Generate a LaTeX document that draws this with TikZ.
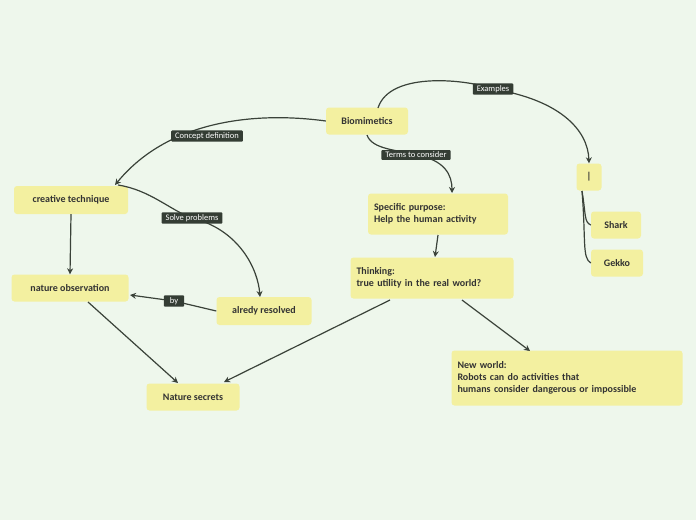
\documentclass[tikz,border=0pt]{standalone}
\usepackage{fontspec}
\setmainfont{Carlito}
\usetikzlibrary{arrows.meta}
\definecolor{bg}{HTML}{EEF7EC}
\definecolor{nd}{HTML}{F3F0A0}
\definecolor{lb}{HTML}{343D34}
\definecolor{ln}{HTML}{3A4239}
\begin{document}
\begin{tikzpicture}[x=1pt,y=-1pt,
  n/.style={fill=nd,rounded corners=3pt,font=\bfseries\fontsize{10}{12}\selectfont,text=black!80,inner sep=0pt,align=left},
  l/.style={fill=lb,text=white,font=\fontsize{8.5}{10}\selectfont,inner xsep=4pt,inner ysep=2pt,rounded corners=1pt},
  c/.style={draw=ln,line width=1.2pt},
  a/.style={c,-{Stealth[length=6pt,width=6pt]}}]
\fill[bg] (0,0) rectangle (696,520);
\useasboundingbox (0,0) rectangle (696,520);
\node[n,minimum width=82pt,minimum height=27pt,align=center] (bio) at (367,121) {Biomimetics};
\node[n,minimum width=114pt,minimum height=28pt,align=center] (ct) at (71,200) {creative technique};
\node[n,minimum width=117pt,minimum height=27pt,align=center] (no) at (70,288) {nature observation};
\node[n,minimum width=95pt,minimum height=28pt,align=center] (ar) at (264,311) {alredy resolved};
\node[n,minimum width=93pt,minimum height=27pt,align=center] (ns) at (193,397) {Nature secrets};
\node[n,minimum width=140pt,minimum height=41pt,text width=128pt] (sp) at (438,214) {Specific purpose:\\Help the human activity};
\node[n,minimum width=163pt,minimum height=41pt,text width=151pt] (th) at (432,278) {Thinking:\\true utility in the real world?};
\node[n,minimum width=231pt,minimum height=55pt,text width=219pt] (nw) at (567,378) {New world:\\Robots can do activities that\\humans consider dangerous or impossible};
\node[n,minimum width=25pt,minimum height=27pt,align=center] (bar) at (589,177) {|};
\node[n,minimum width=50pt,minimum height=27pt,align=center] (sh) at (616,225) {Shark};
\node[n,minimum width=52pt,minimum height=27pt,align=center] (ge) at (617,263) {Gekko};
\coordinate (cd) at (207,136);
\coordinate (ex) at (493,89);
\coordinate (tc) at (416,155);
\coordinate (spb) at (192,218);
\coordinate (by) at (174,301);
\draw[a] (bio.west) .. controls (260,112) and (170,118) .. (115,185);
\draw[a] (378,108) .. controls (390,70) and (470,80) .. (ex) .. controls (560,100) and (588,130) .. (bar.north);
\draw[a] (367,135) .. controls (372,150) and (400,150) .. (tc) .. controls (445,160) and (452,175) .. (452,193);
\draw[a] (118,185) .. controls (150,190) and (170,210) .. (spb) .. controls (240,230) and (258,270) .. (260,297);
\draw[a] (ct.south) -- (no.north);
\draw[a] (ar.west) -- (by) -- (130,295);
\draw[a] (88,302) -- (178,383);
\draw[a] (390,300) -- (224,382);
\draw[a] (438,235) -- (435,257);
\draw[a] (462,300) -- (530,351);
\draw[c] (582,191) .. controls (586,215) and (584,222) .. (sh.west);
\draw[c] (582,191) .. controls (586,240) and (582,258) .. (ge.west);
\node[l] at (cd) {Concept definition};
\node[l] at (ex) {Examples};
\node[l] at (tc) {Terms to consider};
\node[l] at (spb) {Solve problems};
\node[l,inner xsep=6pt] at (by) {by};
\end{tikzpicture}
\end{document}
